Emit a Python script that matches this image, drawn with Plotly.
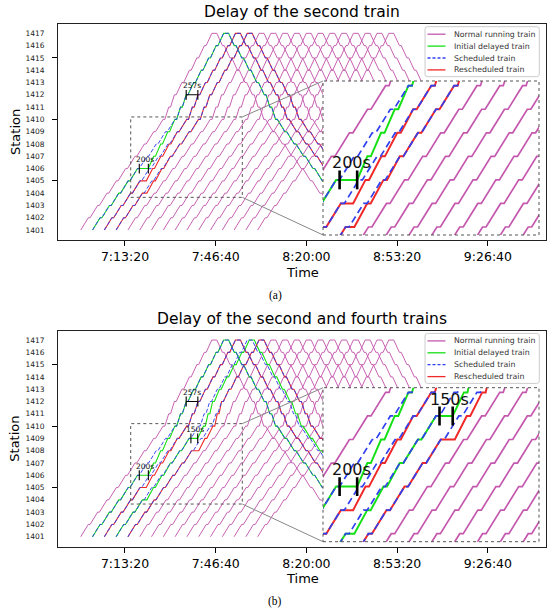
import plotly.graph_objects as go

# ---------------- data ----------------
stations = list(range(1401, 1418))
station_labels = [str(s) for s in stations]
major_station_ticks = [1405, 1410, 1415]

# scheduled running time (s) of each section going up 1401 -> 1417
run_up = [166, 166, 166, 166, 166, 166, 166, 166, 166, 85, 85, 125, 125, 125, 125, 125]
# running time of each section going back down 1417 -> 1401
run_down = [125, 125, 125, 125, 125, 85, 85, 166, 166, 166, 166, 166, 166, 166, 166, 166]
dwell_time = 40
turn_dwell = 110
# departure time (s after midnight) of each train from station 1401
dep_1401 = [25025, 25285, 25545, 25805, 26065, 26325, 26585, 26845,
            27105, 27365, 27625, 27885, 28145, 28405, 28665, 28925]

time_tick_vals = [26000, 28000, 30000, 32000, 34000]
time_tick_text = ["7:13:20", "7:46:40", "8:20:00", "8:53:20", "9:26:40"]

# disturbance of train 2 (both panels)
t2_delay_station = 1406
t2_delay_extra = 200
t2_recovery_runs = [116, 116, 116, 116]
# rescheduling of train 3 (both panels)
t3_hold_station = 1405
t3_hold_extra = 100
t3_recovery_runs = [141, 141, 141, 141]
# rescheduling of train 4 caused by train 2
t4_hold_station = 1404
t4_hold_extra = 60
t4_recovery_runs = [146, 146, 146]
# disturbance of train 4 (panel b)
t4_delay_station = 1409
t4_delay_extra = 150
t4_delay_recovery_runs = [128, 60, 60, 110]
# rescheduling of train 5 (panel b)
t5_hold_station = 1408
t5_hold_extra = 120
t5_recovery_runs = [136, 136, 55, 55]

headway_station = 1412
headway_value = 257

# view ranges
main_x_range = [24530, 35280]
main_y_range = [1400.19, 1417.76]
inset_x_range = [26126, 28586]
inset_y_range = [1403.66, 1410.2]

# ---------------- colours / styles ----------------
C_NORMAL = "rgb(196,88,174)"
C_GREEN = "#14e014"
C_BLUE = "#3040ee"
C_RED = "#f02828"
FONT = "DejaVu Sans"
W, H = 550, 614


def px(x):
    return x / W


def py(y):
    return 1 - y / H


def train_path(k, events):
    runs = list(run_up)
    extra = {s: 0 for s in stations}
    for st, ex, rr in events:
        extra[st] += ex
        i0 = st - stations[0]
        for j, r in enumerate(rr):
            runs[i0 + j] = r
    t = dep_1401[k - 1]
    xs, ys = [t], [stations[0]]
    for i in range(len(runs)):
        t += runs[i]
        s = stations[i + 1]
        xs.append(t); ys.append(s)
        if s < stations[-1]:
            t += dwell_time + extra[s]
            xs.append(t); ys.append(s)
    t += turn_dwell
    xs.append(t); ys.append(stations[-1])
    for i in range(len(run_down)):
        t += run_down[i]
        s = stations[-2 - i]
        xs.append(t); ys.append(s)
        if s > stations[0]:
            t += dwell_time
            xs.append(t); ys.append(s)
    return xs, ys


def join(paths):
    X, Y = [], []
    for xs, ys in paths:
        X += xs + [None]
        Y += ys + [None]
    return X, Y


def leave_time(path, st):
    xs, ys = path
    idx = [i for i, y in enumerate(ys) if y == st]
    return xs[idx[1]]


def arrive_time(path, st):
    xs, ys = path
    idx = [i for i, y in enumerate(ys) if y == st]
    return xs[idx[0]]


def rounded_rect(x0, y0, x1, y1, r):
    # pixel coords (top-left origin) -> paper path with rounded corners
    pts = (f"M {px(x0 + r)},{py(y0)} L {px(x1 - r)},{py(y0)} Q {px(x1)},{py(y0)} {px(x1)},{py(y0 + r)} "
           f"L {px(x1)},{py(y1 - r)} Q {px(x1)},{py(y1)} {px(x1 - r)},{py(y1)} "
           f"L {px(x0 + r)},{py(y1)} Q {px(x0)},{py(y1)} {px(x0)},{py(y1 - r)} "
           f"L {px(x0)},{py(y0 + r)} Q {px(x0)},{py(y0)} {px(x0 + r)},{py(y0)} Z")
    return pts


ev_t2 = [(t2_delay_station, t2_delay_extra, t2_recovery_runs)]
ev_t3 = [(t3_hold_station, t3_hold_extra, t3_recovery_runs)]
ev_t4 = [(t4_hold_station, t4_hold_extra, t4_recovery_runs)]
ev_t4b = [(t4_hold_station, t4_hold_extra, t4_recovery_runs),
          (t4_delay_station, t4_delay_extra, t4_delay_recovery_runs)]
ev_t5 = [(t5_hold_station, t5_hold_extra, t5_recovery_runs)]

panels = [
    dict(title="Delay of the second train", tag="(a)",
         green={2: ev_t2}, red={3: ev_t3, 4: ev_t4},
         delays=[(2, t2_delay_station, t2_delay_extra)], top=24.0),
    dict(title="Delay of the second and fourth trains", tag="(b)",
         green={2: ev_t2, 4: ev_t4b}, red={3: ev_t3, 5: ev_t5},
         delays=[(2, t2_delay_station, t2_delay_extra), (4, t4_delay_station, t4_delay_extra)],
         top=330.7),
]

fig = go.Figure()
layout = dict(width=W, height=H, margin=dict(l=0, r=0, t=0, b=0),
              paper_bgcolor="white", plot_bgcolor="white", showlegend=False,
              font=dict(family=FONT, color="black"))
shapes, annots = [], []

for p_i, P in enumerate(panels):
    top = P["top"]
    bottom = top + 216.0
    main_dom_x = [px(58.3), px(546.0)]
    main_dom_y = [py(bottom), py(top)]
    in_top = top + 57.0
    in_bottom = top + 211.0
    inset_dom_x = [px(323.0), px(539.0)]
    inset_dom_y = [py(in_bottom), py(in_top)]

    n_main = 2 * p_i + 1
    n_in = 2 * p_i + 2
    xm = "x" if n_main == 1 else f"x{n_main}"
    ym = "y" if n_main == 1 else f"y{n_main}"
    xi, yi = f"x{n_in}", f"y{n_in}"

    special = set(P["green"]) | set(P["red"])
    normal_paths = [train_path(k, []) for k in range(1, len(dep_1401) + 1) if k not in special]
    green_paths = {k: train_path(k, ev) for k, ev in P["green"].items()}
    red_paths = {k: train_path(k, ev) for k, ev in P["red"].items()}
    sched_paths = [train_path(k, []) for k in sorted(special)]

    for (xa, ya, lw, is_inset) in [(xm, ym, 0.95, False), (xi, yi, 1.7, True)]:
        if is_inset:
            fig.add_trace(go.Scatter(
                x=[inset_x_range[0], inset_x_range[1], inset_x_range[1], inset_x_range[0], inset_x_range[0]],
                y=[inset_y_range[0], inset_y_range[0], inset_y_range[1], inset_y_range[1], inset_y_range[0]],
                fill="toself", fillcolor="white", line=dict(width=0), mode="lines",
                hoverinfo="skip", xaxis=xa, yaxis=ya))
        X, Y = join(normal_paths)
        fig.add_trace(go.Scatter(x=X, y=Y, mode="lines", line=dict(color=C_NORMAL, width=lw),
                                 xaxis=xa, yaxis=ya, hoverinfo="skip"))
        X, Y = join(list(green_paths.values()))
        fig.add_trace(go.Scatter(x=X, y=Y, mode="lines", line=dict(color=C_GREEN, width=lw * 1.15),
                                 xaxis=xa, yaxis=ya, hoverinfo="skip"))
        X, Y = join(list(red_paths.values()))
        fig.add_trace(go.Scatter(x=X, y=Y, mode="lines", line=dict(color=C_RED, width=lw * 1.15),
                                 xaxis=xa, yaxis=ya, hoverinfo="skip"))
        X, Y = join(sched_paths)
        fig.add_trace(go.Scatter(x=X, y=Y, mode="lines",
                                 line=dict(color=C_BLUE, width=lw, dash="7px,4px" if is_inset else "4px,2px"),
                                 xaxis=xa, yaxis=ya, hoverinfo="skip"))

        # delay markers
        mx, my = [], []
        for (k, st, ex) in P["delays"]:
            tend = leave_time(green_paths[k], st)
            for tt in (tend - ex, tend):
                mx += [tt, tt, None]
                my += [st - 0.4, st + 0.4, None]
            lbl_font = 16 if is_inset else 7.5
            if (not is_inset) or (inset_x_range[0] < tend < inset_x_range[1] and inset_y_range[0] < st + 0.7 < inset_y_range[1]):
                annots.append(dict(x=tend - ex / 2 + (40 if is_inset else 20), y=st + 0.72, xref=xa, yref=ya,
                                   text=f"{ex}s", showarrow=False, font=dict(size=lbl_font, color="#111", family=FONT),
                                   xanchor="center", yanchor="middle"))
        if not is_inset:
            t0 = arrive_time(green_paths[2], headway_station)
            mx += [t0, t0, None, t0 + headway_value, t0 + headway_value, None, t0, t0 + headway_value, None]
            my += [headway_station - 0.4, headway_station + 0.4, None,
                   headway_station - 0.4, headway_station + 0.4, None,
                   headway_station, headway_station, None]
            annots.append(dict(x=t0 + headway_value / 2, y=headway_station + 0.72, xref=xa, yref=ya,
                               text=f"{headway_value}s", showarrow=False,
                               font=dict(size=7.5, color="#111", family=FONT),
                               xanchor="center", yanchor="middle"))
        fig.add_trace(go.Scatter(x=mx, y=my, mode="lines",
                                 line=dict(color="black", width=2.6 if is_inset else 1.1),
                                 xaxis=xa, yaxis=ya, hoverinfo="skip"))

    # axes
    key_xm = "xaxis" if n_main == 1 else f"xaxis{n_main}"
    key_ym = "yaxis" if n_main == 1 else f"yaxis{n_main}"
    layout[key_xm] = dict(domain=main_dom_x, anchor=ym, range=main_x_range, tickmode="array",
                          tickvals=time_tick_vals, ticktext=time_tick_text, ticks="outside", ticklen=5,
                          tickcolor="black", tickfont=dict(size=12.5, family=FONT, color="black"),
                          showgrid=False, zeroline=False, showline=True, mirror=True,
                          linecolor="#222", linewidth=1.2)
    layout[key_ym] = dict(domain=main_dom_y, anchor=xm, range=main_y_range, tickmode="array",
                          tickvals=stations, ticktext=station_labels, ticks="",
                          tickfont=dict(size=7.5, family=FONT, color="#222"), ticklabelstandoff=11,
                          minor=dict(tickmode="array", tickvals=major_station_ticks, ticks="outside",
                                     ticklen=5, tickcolor="black", showgrid=False),
                          showgrid=False, zeroline=False, showline=True, mirror=True,
                          linecolor="#222", linewidth=1.2)
    layout[f"xaxis{n_in}"] = dict(domain=inset_dom_x, anchor=yi, range=inset_x_range, showticklabels=False,
                                  ticks="", showgrid=False, zeroline=False, showline=False)
    layout[f"yaxis{n_in}"] = dict(domain=inset_dom_y, anchor=xi, range=inset_y_range, showticklabels=False,
                                  ticks="", showgrid=False, zeroline=False, showline=False)

    # zoom rectangle on the main axes and frame of the inset
    shapes.append(dict(type="rect", xref=xm, yref=ym, x0=inset_x_range[0], x1=inset_x_range[1],
                       y0=inset_y_range[0], y1=inset_y_range[1], line=dict(color="#555", width=1, dash="dot"),
                       layer="above"))
    shapes.append(dict(type="rect", xref="paper", yref="paper", x0=inset_dom_x[0], x1=inset_dom_x[1],
                       y0=inset_dom_y[0], y1=inset_dom_y[1], line=dict(color="#555", width=1, dash="dot"),
                       layer="above"))

    def to_paper(t, s):
        fx = main_dom_x[0] + (t - main_x_range[0]) / (main_x_range[1] - main_x_range[0]) * (main_dom_x[1] - main_dom_x[0])
        fy = main_dom_y[0] + (s - main_y_range[0]) / (main_y_range[1] - main_y_range[0]) * (main_dom_y[1] - main_dom_y[0])
        return fx, fy

    c1 = to_paper(inset_x_range[1], inset_y_range[1])
    c2 = to_paper(inset_x_range[1], inset_y_range[0])
    shapes.append(dict(type="line", xref="paper", yref="paper", x0=c1[0], y0=c1[1],
                       x1=inset_dom_x[0], y1=inset_dom_y[1], line=dict(color="#888", width=1), layer="above"))
    shapes.append(dict(type="line", xref="paper", yref="paper", x0=c2[0], y0=c2[1],
                       x1=inset_dom_x[0], y1=inset_dom_y[0], line=dict(color="#888", width=1), layer="above"))

    # legend (drawn by hand)
    lg_top = top + 2.7
    shapes.append(dict(type="path", xref="paper", yref="paper",
                       path=rounded_rect(425, lg_top, 539.3, lg_top + 50, 2.5),
                       line=dict(color="#cccccc", width=1), fillcolor="white", layer="above"))
    entries = [("Normal running train", C_NORMAL, "solid"), ("Initial delayed train", C_GREEN, "solid"),
               ("Scheduled train", C_BLUE, "dash"), ("Rescheduled train", C_RED, "solid")]
    for j, (name, col, dash) in enumerate(entries):
        yy = lg_top + 7.5 + j * 11.9
        shapes.append(dict(type="line", xref="paper", yref="paper", x0=px(427.5), x1=px(445.5),
                           y0=py(yy), y1=py(yy), line=dict(color=col, width=1.3,
                                                           dash="3px,2px" if dash == "dash" else "solid"),
                           layer="above"))
        annots.append(dict(x=px(451.5), y=py(yy), xref="paper", yref="paper", text=name, showarrow=False,
                           xanchor="left", yanchor="middle", font=dict(size=7.8, family=FONT, color="#333")))

    # titles and labels
    annots.append(dict(x=px(302), y=py(top - 12), xref="paper", yref="paper", text=P["title"], showarrow=False,
                       xanchor="center", yanchor="middle", font=dict(size=15.5, family=FONT, color="black")))
    annots.append(dict(x=px(302), y=py(bottom + 32), xref="paper", yref="paper", text="Time", showarrow=False,
                       xanchor="center", yanchor="middle", font=dict(size=13, family=FONT, color="black")))
    annots.append(dict(x=px(15), y=py((top + bottom) / 2), xref="paper", yref="paper", text="Station",
                       showarrow=False, textangle=-90, xanchor="center", yanchor="middle",
                       font=dict(size=13, family=FONT, color="black")))
    annots.append(dict(x=px(275), y=py(bottom + 55), xref="paper", yref="paper", text=P["tag"], showarrow=False,
                       xanchor="center", yanchor="middle", font=dict(size=11.5, family="Liberation Serif",
                                                                      color="black")))

layout["shapes"] = shapes
layout["annotations"] = annots
fig.update_layout(**layout)
fig.write_html("out.html",
               config={"displayModeBar": False, "staticPlot": True},
               post_script="document.body.style.margin='0';document.body.style.padding='0';")
